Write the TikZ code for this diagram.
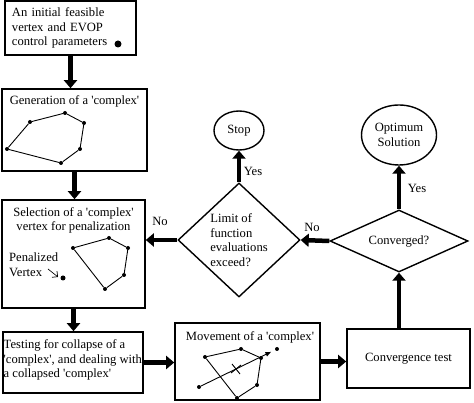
\documentclass[tikz,border=0pt]{standalone}
\usepackage{fontspec}
\setmainfont{Liberation Serif}
\usetikzlibrary{arrows.meta,shapes.geometric,positioning,calc}
\newcommand{\sq}{\textquotesingle}

\begin{document}
\begin{tikzpicture}[x=1pt,y=-1pt,
          box/.style={rectangle,draw,line width=1.6pt,inner sep=0pt},
          dia/.style={diamond,draw,line width=1.4pt,inner sep=0pt},
          oval/.style={ellipse,draw,line width=1.4pt,inner sep=0pt,align=center},
          txt/.style={font=\fontsize{12.6}{14.5}\selectfont,inner sep=0pt},
          flow/.style={line width=4.5pt,-{Triangle[length=8pt,width=13pt]}},
          edge/.style={line width=0.9pt},
          vtx/.style={circle,fill,inner sep=0pt,minimum size=4pt},
        ]
        \useasboundingbox (0,0) rectangle (474,403);

        % LEFT COLUMN
        \node[box,txt,minimum width=131pt,minimum height=54pt,
              text width=117pt,align=left] (init) at (70.5,28)
          {An initial feasible\\vertex and EVOP\\control parameters};
        \node[vtx,minimum size=7pt] (idot) at (118,44) {};

        \node[box,minimum width=145pt,minimum height=82pt] (gen) at (74.5,130) {};
        \node[txt] (gent) at (74.5,101) {Generation of a \sq complex\sq};
        \node[vtx] (g1) at (7,149) {};
        \node[vtx] (g2) at (30,122) {};
        \node[vtx] (g3) at (65,113) {};
        \node[vtx] (g4) at (84,123) {};
        \node[vtx] (g5) at (80,149) {};
        \node[vtx] (g6) at (61,163) {};
        \draw[edge] (g1)--(g2)--(g3)--(g4)--(g5)--(g6)--(g1);

        \node[box,minimum width=143pt,minimum height=108pt] (sel) at (73.5,254) {};
        \node[txt,align=center] (selt) at (73.5,220.5)
          {Selection of a \sq complex\sq\\vertex for penalization};
        \node[vtx] (s1) at (73,248) {};
        \node[vtx] (s2) at (109,238) {};
        \node[vtx] (s3) at (128,248) {};
        \node[vtx] (s4) at (124,275) {};
        \node[vtx] (s5) at (105,289) {};
        \draw[edge] (s1)--(s2)--(s3)--(s4)--(s5)--(s1);
        \node[txt,align=left,anchor=west] (pent) at (9,264.5) {Penalized\\Vertex};
        \node[vtx,minimum size=5pt] (pv) at (63,278) {};
        \coordinate (pa) at (48,269);
        \coordinate (pb) at (58,277);
        \draw[line width=0.7pt,-{Straight Barb[length=4pt]}] (pa) -- (pb);

        \node[box,minimum width=140pt,minimum height=61pt] (test) at (73,362.5) {};
        \node[txt,align=left,anchor=west] (testt) at (3.5,360)
          {Testing for collapse of a\\\sq complex\sq, and dealing with\\a collapsed \sq complex\sq};

        % BOTTOM ROW
        \node[box,minimum width=145pt,minimum height=77pt] (mov) at (247.5,361.5) {};
        \node[txt] (movt) at (250,337) {Movement of a \sq complex\sq};
        \node[vtx] (m1) at (205,357) {};
        \node[vtx] (m2) at (241,349) {};
        \node[vtx] (m3) at (261,358) {};
        \node[vtx] (m4) at (257,385) {};
        \node[vtx] (m5) at (237,398) {};
        \draw[edge] (m1)--(m2)--(m3)--(m4)--(m5)--(m1);
        \node[vtx] (r0) at (199,387) {};
        \node[vtx] (r1) at (277,349) {};
        \draw[edge,-{Latex[length=6pt,width=5pt]},shorten >=4pt] (r0) -- (r1);
        \coordinate (cen) at (236,369);
        \draw[edge] ($(cen)+(-4,-5)$) -- ($(cen)+(4,5)$)
          ($(cen)+(-5,4)$) -- ($(cen)+(5,-4)$);

        \node[box,txt,minimum width=123pt,minimum height=59pt] (conv) at (408.5,358.5)
          {Convergence test};

        % DECISIONS
        \node[dia,txt,aspect=2.2,minimum width=138pt,minimum height=62pt] (cvg)
          at (399,241) {Converged?};
        \node[dia,txt,aspect=1.07,minimum width=122pt,minimum height=114pt,
              align=left] (lim) at (239,240)
          {Limit of\\function\\evaluations\\exceed?};
        \node[oval,txt,minimum width=50pt,minimum height=39pt] (stop) at (239,130.5) {Stop};
        \node[oval,txt,minimum width=75pt,minimum height=60pt] (opt) at (399,135)
          {Optimum\\Solution};

        % ARROWS
        \draw[flow] (init.south) -- (init.south |- gen.north);
        \draw[flow] (gen.south) -- (gen.south |- sel.north);
        \draw[flow] (sel.south) -- (sel.south |- test.north);
        \draw[flow] (test.east) -- (test.east -| mov.west);
        \draw[flow] (mov.east) -- (mov.east -| conv.west);
        \draw[flow] (cvg.south |- conv.north) -- (cvg.south);
        \draw[flow] (cvg.north) -- (opt.south);
        \draw[flow] (cvg.west) -- (lim.east);
        \draw[flow] (lim.north) -- (stop.south);
        \draw[flow] (lim.west) -- (lim.west -| sel.east);

        \node[txt] (yes1) at (253,171) {Yes};
        \node[txt] (yes2) at (417,188) {Yes};
        \node[txt] (no1) at (160,221) {No};
        \node[txt] (no2) at (312,227) {No};
      \end{tikzpicture}
\end{document}
